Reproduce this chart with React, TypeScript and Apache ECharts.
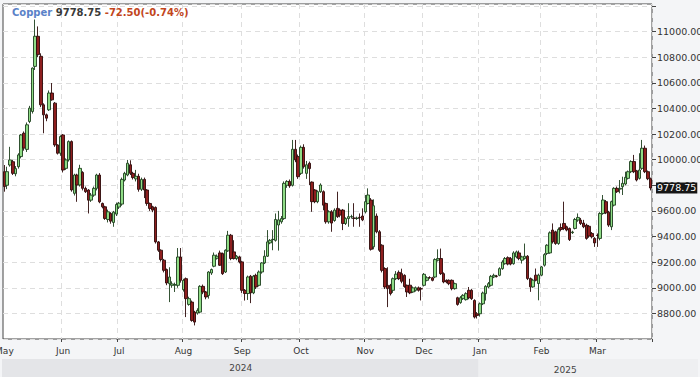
import React, { useEffect, useRef } from 'react';
import * as echarts from 'echarts';

// ---------- data ----------
const START_DATE = '2024-05-01';
const END_DATE = '2025-03-28';
const HOLIDAYS = ['2024-05-06', '2024-05-27', '2024-08-26', '2024-12-25', '2024-12-26', '2025-01-01'];
const MONTHS = ['Jan', 'Feb', 'Mar', 'Apr', 'May', 'Jun', 'Jul', 'Aug', 'Sep', 'Oct', 'Nov', 'Dec'];

const SYMBOL = 'Copper';
const LAST_PRICE = 9778.75;
const CHANGE = -72.5;
const CHANGE_PCT = -0.74;

const Y_MIN = 8600;
const Y_MAX = 11215;
const Y_STEP = 200;
const Y_LABEL_MIN = 8800;
const Y_LABEL_MAX = 11000;

// [open, close, low, high]
const OHLC: [number, number, number, number][] = [
  [9906, 9790, 9750, 9958], [9800, 9906, 9770, 9945], [9958, 9998, 9945, 10100], [9984, 9893, 9880, 9998],
  [9890, 9930, 9870, 9950], [9945, 10037, 9930, 10050], [10024, 10193, 10010, 10200], [10206, 10090, 10070, 10220],
  [10080, 10272, 10060, 10290], [10298, 10402, 10285, 10420], [10376, 10715, 10360, 10720], [10728, 10963, 10700, 11094],
  [10963, 10820, 10800, 11040], [10807, 10428, 10410, 10830], [10428, 10350, 10206, 10440], [10350, 10324, 10300, 10360],
  [10389, 10520, 10380, 10540], [10520, 10467, 10460, 10598], [10441, 10115, 10100, 10450], [10115, 10050, 10040, 10120],
  [10050, 10180, 10030, 10190], [10193, 9919, 9900, 10200], [9932, 9998, 9920, 10010], [9998, 10141, 9985, 10150],
  [10141, 9763, 9750, 10150], [9737, 9880, 9720, 9890], [9880, 9802, 9671, 9890], [9802, 9932, 9790, 9960],
  [9900, 9776, 9760, 9910], [9776, 9750, 9740, 9790], [9763, 9684, 9580, 9770], [9684, 9723, 9670, 9740],
  [9723, 9776, 9710, 9790], [9776, 9880, 9760, 9890], [9880, 9671, 9660, 9895], [9658, 9632, 9620, 9665],
  [9632, 9541, 9530, 9640], [9533, 9593, 9510, 9610], [9580, 9520, 9500, 9590], [9510, 9590, 9476, 9600],
  [9575, 9650, 9560, 9665], [9630, 9660, 9615, 9670], [9653, 9846, 9640, 9860], [9841, 9893, 9830, 9905],
  [9880, 9972, 9870, 9998], [9960, 9893, 9880, 9995], [9893, 9860, 9845, 9905], [9850, 9870, 9830, 9920],
  [9870, 9768, 9750, 9890], [9768, 9846, 9755, 9860], [9846, 9763, 9700, 9860], [9763, 9658, 9640, 9770],
  [9658, 9619, 9600, 9665], [9632, 9606, 9590, 9640], [9627, 9358, 9345, 9635], [9358, 9293, 9280, 9365],
  [9293, 9220, 9205, 9300], [9215, 9136, 9120, 9225], [9142, 9037, 9020, 9150], [9032, 9084, 8888, 9160],
  [9019, 9030, 9000, 9050], [9020, 9025, 8967, 9040], [9019, 9240, 9000, 9310], [9240, 9058, 9040, 9310],
  [8985, 9058, 8970, 9070], [9071, 8915, 8771, 9080], [8870, 8915, 8860, 8930], [8888, 8745, 8735, 8900],
  [8810, 8732, 8706, 8820], [8802, 8823, 8790, 8840], [8810, 9011, 8800, 9020], [9011, 8967, 8950, 9025],
  [8967, 8928, 8910, 8975], [8940, 9123, 8915, 9130], [9115, 9142, 9100, 9150], [9168, 9254, 9160, 9275],
  [9230, 9246, 9220, 9260], [9272, 9176, 9170, 9290], [9267, 9110, 9100, 9275], [9123, 9293, 9115, 9300],
  [9288, 9410, 9280, 9444], [9410, 9228, 9215, 9420], [9280, 9228, 9220, 9371], [9228, 9246, 9215, 9255],
  [9241, 9202, 9190, 9250], [9202, 8980, 8960, 9210], [8980, 8955, 8900, 8990], [8955, 9084, 8905, 9095],
  [9090, 8960, 8880, 9100], [8960, 9090, 8950, 9100], [9097, 9006, 8990, 9110], [9019, 9123, 9010, 9135],
  [9123, 9194, 9110, 9200], [9194, 9246, 9185, 9293], [9246, 9358, 9240, 9450], [9350, 9370, 9340, 9380],
  [9376, 9378, 9293, 9450], [9370, 9533, 9360, 9580], [9490, 9530, 9290, 9600], [9515, 9540, 9500, 9560],
  [9540, 9815, 9530, 9830], [9800, 9830, 9780, 9840], [9830, 9795, 9780, 9845], [9800, 10081, 9790, 10154],
  [10081, 9998, 9980, 10154], [10024, 9867, 9850, 10040], [9893, 10096, 9880, 10110], [10096, 9945, 9930, 10120],
  [9893, 9960, 9850, 9990], [9972, 9930, 9802, 9985], [9825, 9672, 9593, 9830], [9763, 9672, 9660, 9770],
  [9672, 9750, 9660, 9760], [9750, 9802, 9740, 9815], [9750, 9645, 9605, 9760], [9658, 9515, 9500, 9665],
  [9515, 9593, 9500, 9605], [9593, 9505, 9437, 9606], [9525, 9606, 9515, 9620], [9620, 9555, 9545, 9750],
  [9606, 9567, 9550, 9620], [9606, 9502, 9450, 9615], [9502, 9540, 9490, 9550], [9540, 9555, 9476, 9660],
  [9554, 9556, 9540, 9570], [9545, 9541, 9476, 9660], [9541, 9543, 9530, 9555], [9550, 9547, 9476, 9580],
  [9560, 9530, 9520, 9620], [9593, 9672, 9580, 9724], [9658, 9724, 9650, 9776], [9685, 9300, 9290, 9700],
  [9320, 9640, 9300, 9690], [9560, 9437, 9425, 9580], [9437, 9293, 9280, 9450], [9332, 9136, 9120, 9340],
  [9150, 9006, 8990, 9160], [9019, 8993, 8849, 9160], [9019, 8954, 8940, 9030], [8980, 9071, 8960, 9080],
  [9071, 9106, 9060, 9130], [9120, 9071, 9060, 9135], [9110, 9050, 9035, 9149], [9097, 9010, 9000, 9105],
  [9019, 8967, 8928, 9025], [9020, 8960, 8950, 9070], [8967, 8999, 8960, 9010], [8980, 9000, 8970, 9010],
  [9000, 8980, 8970, 9010], [8993, 8990, 8901, 9005], [9019, 9105, 9010, 9115], [9058, 9078, 9050, 9090],
  [9080, 9078, 9070, 9090], [9078, 9058, 9050, 9085], [9084, 9220, 9075, 9230], [9215, 9228, 9205, 9300],
  [9228, 9110, 9100, 9306], [9110, 9045, 9035, 9120], [9058, 9045, 9035, 9065], [9058, 9032, 9020, 9065],
  [9058, 8993, 8980, 9065], [8993, 9032, 8985, 9040], [8922, 8870, 8860, 8930], [8884, 8922, 8875, 8935],
  [8915, 8941, 8905, 8950], [8907, 8954, 8900, 8965], [8980, 8922, 8910, 9006], [8980, 8915, 8905, 8990],
  [8901, 8771, 8760, 8910], [8797, 8784, 8760, 8810], [8797, 8875, 8775, 8885], [8875, 8959, 8865, 8970],
  [8954, 9011, 8900, 9020], [9006, 9032, 8995, 9045], [9019, 9089, 9010, 9100], [9084, 9097, 9075, 9110],
  [9090, 9089, 9080, 9100], [9097, 9149, 9090, 9160], [9149, 9201, 9140, 9215], [9188, 9228, 9180, 9240],
  [9235, 9185, 9175, 9245], [9228, 9185, 9175, 9240], [9188, 9272, 9180, 9285], [9241, 9280, 9230, 9290],
  [9272, 9228, 9215, 9290], [9215, 9241, 9189, 9250], [9228, 9246, 9220, 9345], [9246, 9072, 9060, 9255],
  [9072, 9007, 8968, 9080], [9007, 9059, 9000, 9070], [9098, 9059, 9050, 9150], [9033, 9098, 8902, 9110],
  [9098, 9163, 9090, 9170], [9176, 9259, 9165, 9270], [9267, 9332, 9255, 9340], [9272, 9429, 9265, 9440],
  [9450, 9358, 9345, 9502], [9437, 9345, 9335, 9445], [9345, 9455, 9335, 9470], [9470, 9455, 9440, 9502],
  [9502, 9463, 9450, 9672], [9476, 9450, 9440, 9485], [9463, 9376, 9365, 9470], [9430, 9435, 9420, 9445],
  [9463, 9533, 9455, 9545], [9528, 9549, 9515, 9580], [9528, 9502, 9490, 9545], [9505, 9476, 9465, 9530],
  [9489, 9385, 9375, 9500], [9480, 9404, 9390, 9490], [9424, 9398, 9385, 9435], [9385, 9350, 9319, 9395],
  [9411, 9408, 9319, 9424], [9385, 9580, 9370, 9590], [9580, 9685, 9570, 9724], [9672, 9585, 9575, 9685],
  [9590, 9489, 9475, 9600], [9476, 9672, 9450, 9680], [9645, 9776, 9635, 9785], [9776, 9750, 9740, 9790],
  [9770, 9776, 9737, 9841], [9789, 9815, 9724, 9867], [9810, 9862, 9800, 9906], [9854, 9906, 9845, 9915],
  [9906, 9985, 9895, 9995], [9985, 9906, 9895, 10037], [9913, 9841, 9830, 9920], [9854, 9919, 9845, 10050],
  [9932, 10089, 9920, 10154], [10089, 9906, 9895, 10110], [9906, 9851.25, 9840, 9915], [9851.25, 9778.75, 9760, 9860],
];

// ---------- helpers ----------
function tradingDays(start: string, end: string, holidays: string[]): string[] {
  const out: string[] = [];
  const d = new Date(start + 'T00:00:00Z');
  const e = new Date(end + 'T00:00:00Z');
  while (d <= e) {
    const wd = d.getUTCDay();
    const s = d.toISOString().slice(0, 10);
    if (wd !== 0 && wd !== 6 && holidays.indexOf(s) < 0) out.push(s);
    d.setUTCDate(d.getUTCDate() + 1);
  }
  return out;
}

const DATES = tradingDays(START_DATE, END_DATE, HOLIDAYS);
const isMonthStart = (i: number) => i === 0 || DATES[i].slice(0, 7) !== DATES[i - 1].slice(0, 7);
const isMonthBoundary = (i: number) => i > 0 && isMonthStart(i);

const FONT = 'DejaVu Sans';

export default function App() {
  const ref = useRef<HTMLDivElement>(null);

  useEffect(() => {
    if (!ref.current) return;
    const chart = echarts.init(ref.current, undefined, { renderer: 'svg' });
    const changeText = `${CHANGE.toFixed(2)}(${CHANGE_PCT.toFixed(2)}%)`;

    chart.setOption({
      animation: false,
      backgroundColor: '#f4f5f7',
      textStyle: { fontFamily: FONT },
      title: {
        left: 12,
        top: 7,
        padding: 0,
        text: `{a|${SYMBOL}} {b|${LAST_PRICE.toFixed(2)}} {c|${changeText}}`,
        textStyle: {
          fontSize: 10,
          fontFamily: FONT,
          rich: {
            a: { color: '#5a82c8', fontWeight: 'bold', fontSize: 10, fontFamily: FONT },
            b: { color: '#3a3a3a', fontWeight: 'bold', fontSize: 10, fontFamily: FONT },
            c: { color: '#c2461c', fontWeight: 'bold', fontSize: 10, fontFamily: FONT },
          },
        },
      },
      grid: {
        left: 3,
        right: 48,
        top: 4,
        bottom: 38,
        show: true,
        containLabel: false,
        outerBoundsMode: 'none',
        backgroundColor: '#ffffff',
        borderColor: '#444444',
        borderWidth: 1,
      },
      xAxis: {
        type: 'category',
        data: DATES,
        boundaryGap: true,
        axisLine: { show: false },
        axisTick: {
          show: true,
          interval: (i: number) => isMonthBoundary(i),
          length: 3,
          lineStyle: { color: '#444' },
        },
        axisLabel: {
          interval: (i: number) => isMonthStart(i),
          formatter: (v: string) => MONTHS[parseInt(v.slice(5, 7), 10) - 1],
          fontSize: 9,
          color: '#333',
          margin: 7,
          fontFamily: FONT,
          hideOverlap: false,
        },
        splitLine: {
          show: true,
          interval: (i: number) => isMonthBoundary(i),
          lineStyle: { color: '#dedede', type: [5, 4], width: 1 },
        },
      },
      yAxis: {
        type: 'value',
        position: 'right',
        min: Y_MIN,
        max: Y_MAX,
        interval: Y_STEP,
        axisLine: { show: false },
        axisTick: { show: true, length: 4, lineStyle: { color: '#444' } },
        axisLabel: {
          margin: 5,
          fontSize: 9.5,
          color: '#333',
          fontFamily: FONT,
          showMinLabel: false,
          showMaxLabel: false,
          formatter: (v: number) => (v < Y_LABEL_MIN || v > Y_LABEL_MAX ? '' : v.toFixed(2)),
        },
        splitLine: { show: true, lineStyle: { color: '#dedede', type: [5, 4], width: 1 } },
      },
      series: [
        {
          type: 'candlestick',
          data: OHLC,
          barWidth: 3,
          clip: false,
          itemStyle: {
            color: '#8fdc86',
            color0: '#8e1e1e',
            borderColor: '#1e3f1e',
            borderColor0: '#2e0a0a',
            borderWidth: 0.9,
          },
          markLine: {
            silent: true,
            symbol: 'none',
            lineStyle: { color: 'transparent', width: 0 },
            label: {
              show: true,
              position: 'end',
              distance: 4,
              formatter: () => LAST_PRICE.toFixed(2),
              color: '#ffffff',
              backgroundColor: '#161616',
              padding: [1, 1, 0, 1],
              fontSize: 9.5,
              fontFamily: FONT,
            },
            data: [{ yAxis: OHLC[OHLC.length - 1][1] }],
          },
        },
      ],
    });

    // year band, positioned through the category scale
    const i2025 = DATES.findIndex((d) => d.startsWith('2025'));
    const xa = chart.convertToPixel({ xAxisIndex: 0 }, i2025) as number;
    const xb = chart.convertToPixel({ xAxisIndex: 0 }, i2025 + 1) as number;
    const boundary = xa - (xb - xa) / 2;
    const left = 3;
    const right = 652;
    chart.setOption({
      graphic: [
        { type: 'rect', shape: { x: 2, y: 359, width: boundary - 2, height: 18 }, style: { fill: '#e4e5e8' }, silent: true },
        { type: 'rect', shape: { x: boundary, y: 359, width: 698 - boundary, height: 18 }, style: { fill: '#eeeff1' }, silent: true },
        {
          type: 'text',
          x: (left + boundary) / 2,
          y: 368,
          style: { text: '2024', fill: '#444', font: `9px "${FONT}"`, align: 'center', verticalAlign: 'middle' },
          silent: true,
        },
        {
          type: 'text',
          x: (boundary + right) / 2,
          y: 370,
          style: { text: '2025', fill: '#444', font: `9px "${FONT}"`, align: 'center', verticalAlign: 'middle' },
          silent: true,
        },
      ],
    });

    return () => chart.dispose();
  }, []);

  return (
    <div
      ref={ref}
      style={{ position: 'fixed', left: 0, top: 0, width: 700, height: 377 }}
    />
  );
}
